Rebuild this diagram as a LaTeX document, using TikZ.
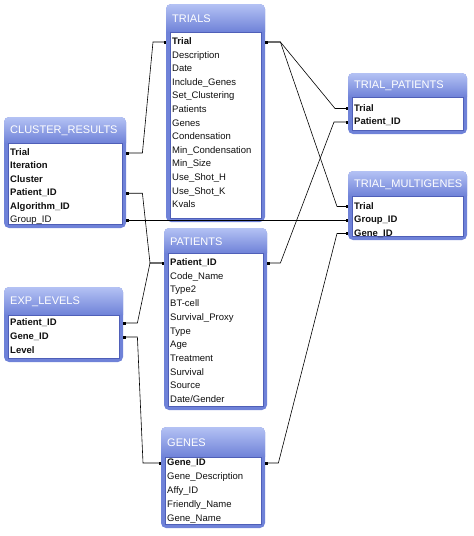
\documentclass[tikz,border=0pt]{standalone}
\usepackage{fontspec}
\setmainfont{Liberation Sans}
\usetikzlibrary{arrows.meta}
\definecolor{boxblue}{HTML}{6F82D8}
\definecolor{boxtop}{HTML}{B4C2F4}
\definecolor{framecol}{HTML}{4F5FB8}
\definecolor{txt}{HTML}{101010}
\tikzset{
  titletext/.style={anchor=west, inner sep=0pt, text=white, font=\fontsize{11}{12}\selectfont},
  fieldrow/.style={anchor=west, inner ysep=0pt, inner xsep=6pt, text height=7pt, text depth=2pt, align=left, text=txt, font=\fontsize{9.5}{11}\selectfont},
  keyf/.style={font=\fontsize{9.5}{11}\selectfont\bfseries},
  plainf/.style={},
  rel/.style={line width=0.6pt, black, {Square[length=2.2pt,width=2.2pt]}-{Square[length=2.2pt,width=2.2pt]}}
}
\newcommand\dbbox[7]{%
  \fill[boxblue, rounded corners=5pt] ({#2},{#4}) rectangle ({#3},{#5});
  \shade[top color=boxtop, bottom color=boxblue] ({#2},{#6}) [rounded corners=5pt] -- ({#2},{#4}) -- ({#3},{#4}) [sharp corners] -- ({#3},{#6}) -- cycle;
  \draw[framecol, fill=white, line width=0.5pt] ({#2+4},{#6}) rectangle ({#3-4},{#5-4});
  \node[titletext] (#1) at ({#2+6},{(#4+#6)/2+1}) {#7};
}
\newcommand\dbfield[6]{%
  \pgfmathsetmacro\fieldtw{#3-#2-12}%
  \node[fieldrow, #5, text width=\fieldtw pt] (#1) at ({#2},{#4}) {#6};
}
\begin{document}
\begin{tikzpicture}[x=1pt,y=-1pt]
\useasboundingbox (0,0) rectangle (474,536);
% TRIALS
\dbbox{trials}{166}{265}{4}{222}{32}{TRIALS}
\dbfield{trials-trial}{166}{265}{42}{keyf}{Trial}
\dbfield{trials-desc}{166}{265}{55.6}{plainf}{Description}
\dbfield{trials-date}{166}{265}{69.2}{plainf}{Date}
\dbfield{trials-incl}{166}{265}{82.8}{plainf}{Include\_Genes}
\dbfield{trials-set}{166}{265}{96.4}{plainf}{Set\_Clustering}
\dbfield{trials-pat}{166}{265}{110}{plainf}{Patients}
\dbfield{trials-genes}{166}{265}{123.6}{plainf}{Genes}
\dbfield{trials-cond}{166}{265}{137.2}{plainf}{Condensation}
\dbfield{trials-mcond}{166}{265}{150.8}{plainf}{Min\_Condensation}
\dbfield{trials-msize}{166}{265}{164.4}{plainf}{Min\_Size}
\dbfield{trials-ush}{166}{265}{178}{plainf}{Use\_Shot\_H}
\dbfield{trials-usk}{166}{265}{191.6}{plainf}{Use\_Shot\_K}
\dbfield{trials-kv}{166}{265}{205.2}{plainf}{Kvals}
% CLUSTER_RESULTS
\dbbox{cr}{4}{126}{117}{228}{143}{CLUSTER\_RESULTS}
\dbfield{cr-trial}{4}{126}{153}{keyf}{Trial}
\dbfield{cr-iter}{4}{126}{166.4}{keyf}{Iteration}
\dbfield{cr-clus}{4}{126}{179.8}{keyf}{Cluster}
\dbfield{cr-pid}{4}{126}{193.2}{keyf}{Patient\_ID}
\dbfield{cr-alg}{4}{126}{206.6}{keyf}{Algorithm\_ID}
\dbfield{cr-group}{4}{126}{220}{plainf}{Group\_ID}
% TRIAL_PATIENTS
\dbbox{tp}{348}{467}{73}{134}{97}{TRIAL\_PATIENTS}
\dbfield{tp-trial}{348}{467}{108.5}{keyf}{Trial}
\dbfield{tp-pid}{348}{467}{122}{keyf}{Patient\_ID}
% TRIAL_MULTIGENES
\dbbox{tm}{348}{467}{171}{240}{196}{TRIAL\_MULTIGENES}
\dbfield{tm-trial}{348}{467}{206.5}{keyf}{Trial}
\dbfield{tm-group}{348}{467}{220}{keyf}{Group\_ID}
\dbfield{tm-gene}{348}{467}{233.5}{keyf}{Gene\_ID}
% PATIENTS
\dbbox{pat}{164}{267}{228}{410}{253}{PATIENTS}
\dbfield{pat-id}{164}{267}{263}{keyf}{Patient\_ID}
\dbfield{pat-code}{164}{267}{276.7}{plainf}{Code\_Name}
\dbfield{pat-type2}{164}{267}{290.4}{plainf}{Type2}
\dbfield{pat-bt}{164}{267}{304.1}{plainf}{BT-cell}
\dbfield{pat-sp}{164}{267}{317.8}{plainf}{Survival\_Proxy}
\dbfield{pat-type}{164}{267}{331.5}{plainf}{Type}
\dbfield{pat-age}{164}{267}{345.2}{plainf}{Age}
\dbfield{pat-treat}{164}{267}{358.9}{plainf}{Treatment}
\dbfield{pat-surv}{164}{267}{372.6}{plainf}{Survival}
\dbfield{pat-src}{164}{267}{386.3}{plainf}{Source}
\dbfield{pat-dg}{164}{267}{400}{plainf}{Date/Gender}
% EXP_LEVELS
\dbbox{el}{4}{123}{287}{362}{315}{EXP\_LEVELS}
\dbfield{el-pid}{4}{123}{323}{keyf}{Patient\_ID}
\dbfield{el-gene}{4}{123}{337}{keyf}{Gene\_ID}
\dbfield{el-level}{4}{123}{351}{keyf}{Level}
% GENES
\dbbox{genes}{161}{265}{427}{528}{457}{GENES}
\dbfield{genes-id}{161}{265}{463}{keyf}{Gene\_ID}
\dbfield{genes-desc}{161}{265}{477}{plainf}{Gene\_Description}
\dbfield{genes-affy}{161}{265}{491}{plainf}{Affy\_ID}
\dbfield{genes-fn}{161}{265}{505}{plainf}{Friendly\_Name}
\dbfield{genes-gn}{161}{265}{519}{plainf}{Gene\_Name}
% relationships
\draw[rel] (trials-trial.west) -- ++(-13,0) -- ([xshift=16pt]cr-trial.east) -- (cr-trial.east);
\draw[rel] (trials-trial.east) -- ++(15,0) -- ([xshift=-13pt]tp-trial.west) -- (tp-trial.west);
\draw[rel] (trials-trial.east) -- ++(15,0) -- ([xshift=-11pt]tm-trial.west) -- (tm-trial.west);
\draw[rel] (pat-id.east) -- ++(13,0) -- ([xshift=-14pt]tp-pid.west) -- (tp-pid.west);
\draw[rel] (cr-group.east) -- (tm-group.west);
\draw[rel] (cr-pid.east) -- ++(16,0) -- ([xshift=-14pt]pat-id.west) -- (pat-id.west);
\draw[rel] (el-pid.east) -- ++(14,0) -- ([xshift=-14pt]pat-id.west) -- (pat-id.west);
\draw[rel] (el-gene.east) -- ++(14,0) -- ([xshift=-18pt]genes-id.west) -- (genes-id.west);
\draw[rel] (genes-id.east) -- ++(13,0) -- ([xshift=-11pt]tm-gene.west) -- (tm-gene.west);
\end{tikzpicture}
\end{document}
